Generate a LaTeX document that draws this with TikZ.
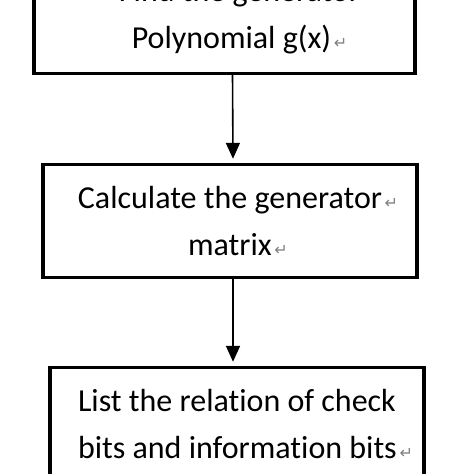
\documentclass[tikz,border=0pt]{standalone}
\usepackage{fontspec}
\setmainfont{Carlito}[Ligatures=NoCommon]
\newfontfamily\markfont{DejaVu Sans}
\usetikzlibrary{arrows.meta}
\newcommand{\pmark}{{\markfont\color{gray}\fontsize{8pt}{8pt}\selectfont\,↵}}
\newcommand{\lead}[1]{\hspace*{#1}}
\tikzset{
	stepbox/.style={draw,line width=1.7pt,minimum height=56.5pt,align=center,
		font=\fontsize{16pt}{23.5pt}\selectfont},
	flow/.style={line width=.8pt,-{Triangle[width=7pt,length=8pt]},shorten >=2pt}
}
\begin{document}
\begin{tikzpicture}[x=.5pt,y=-.5pt]
	\useasboundingbox(0,0)rectangle(474,474);
	\clip(0,0)rectangle(474,474);
	\node[stepbox,minimum width=190.5pt](find)at(224.5,17){\lead{15pt}Find the generator\\\lead{15pt}Polynomial g(x)\pmark};
	\node[stepbox,minimum width=187pt](calc)at(230,221){\lead{8pt}Calculate the generator\pmark\\\lead{8pt}matrix\pmark};
	\node[stepbox,minimum width=187pt,align=left](list)at(237,424){\lead{8.5pt}List the relation of check\\\lead{8.5pt}bits and information bits\pmark};
	\draw[flow]([xshift=4pt]find.south)--([xshift=1.5pt]calc.north);
	\draw[flow]([xshift=1.5pt]calc.south)--([xshift=-2pt]list.north);
\end{tikzpicture}
\end{document}
